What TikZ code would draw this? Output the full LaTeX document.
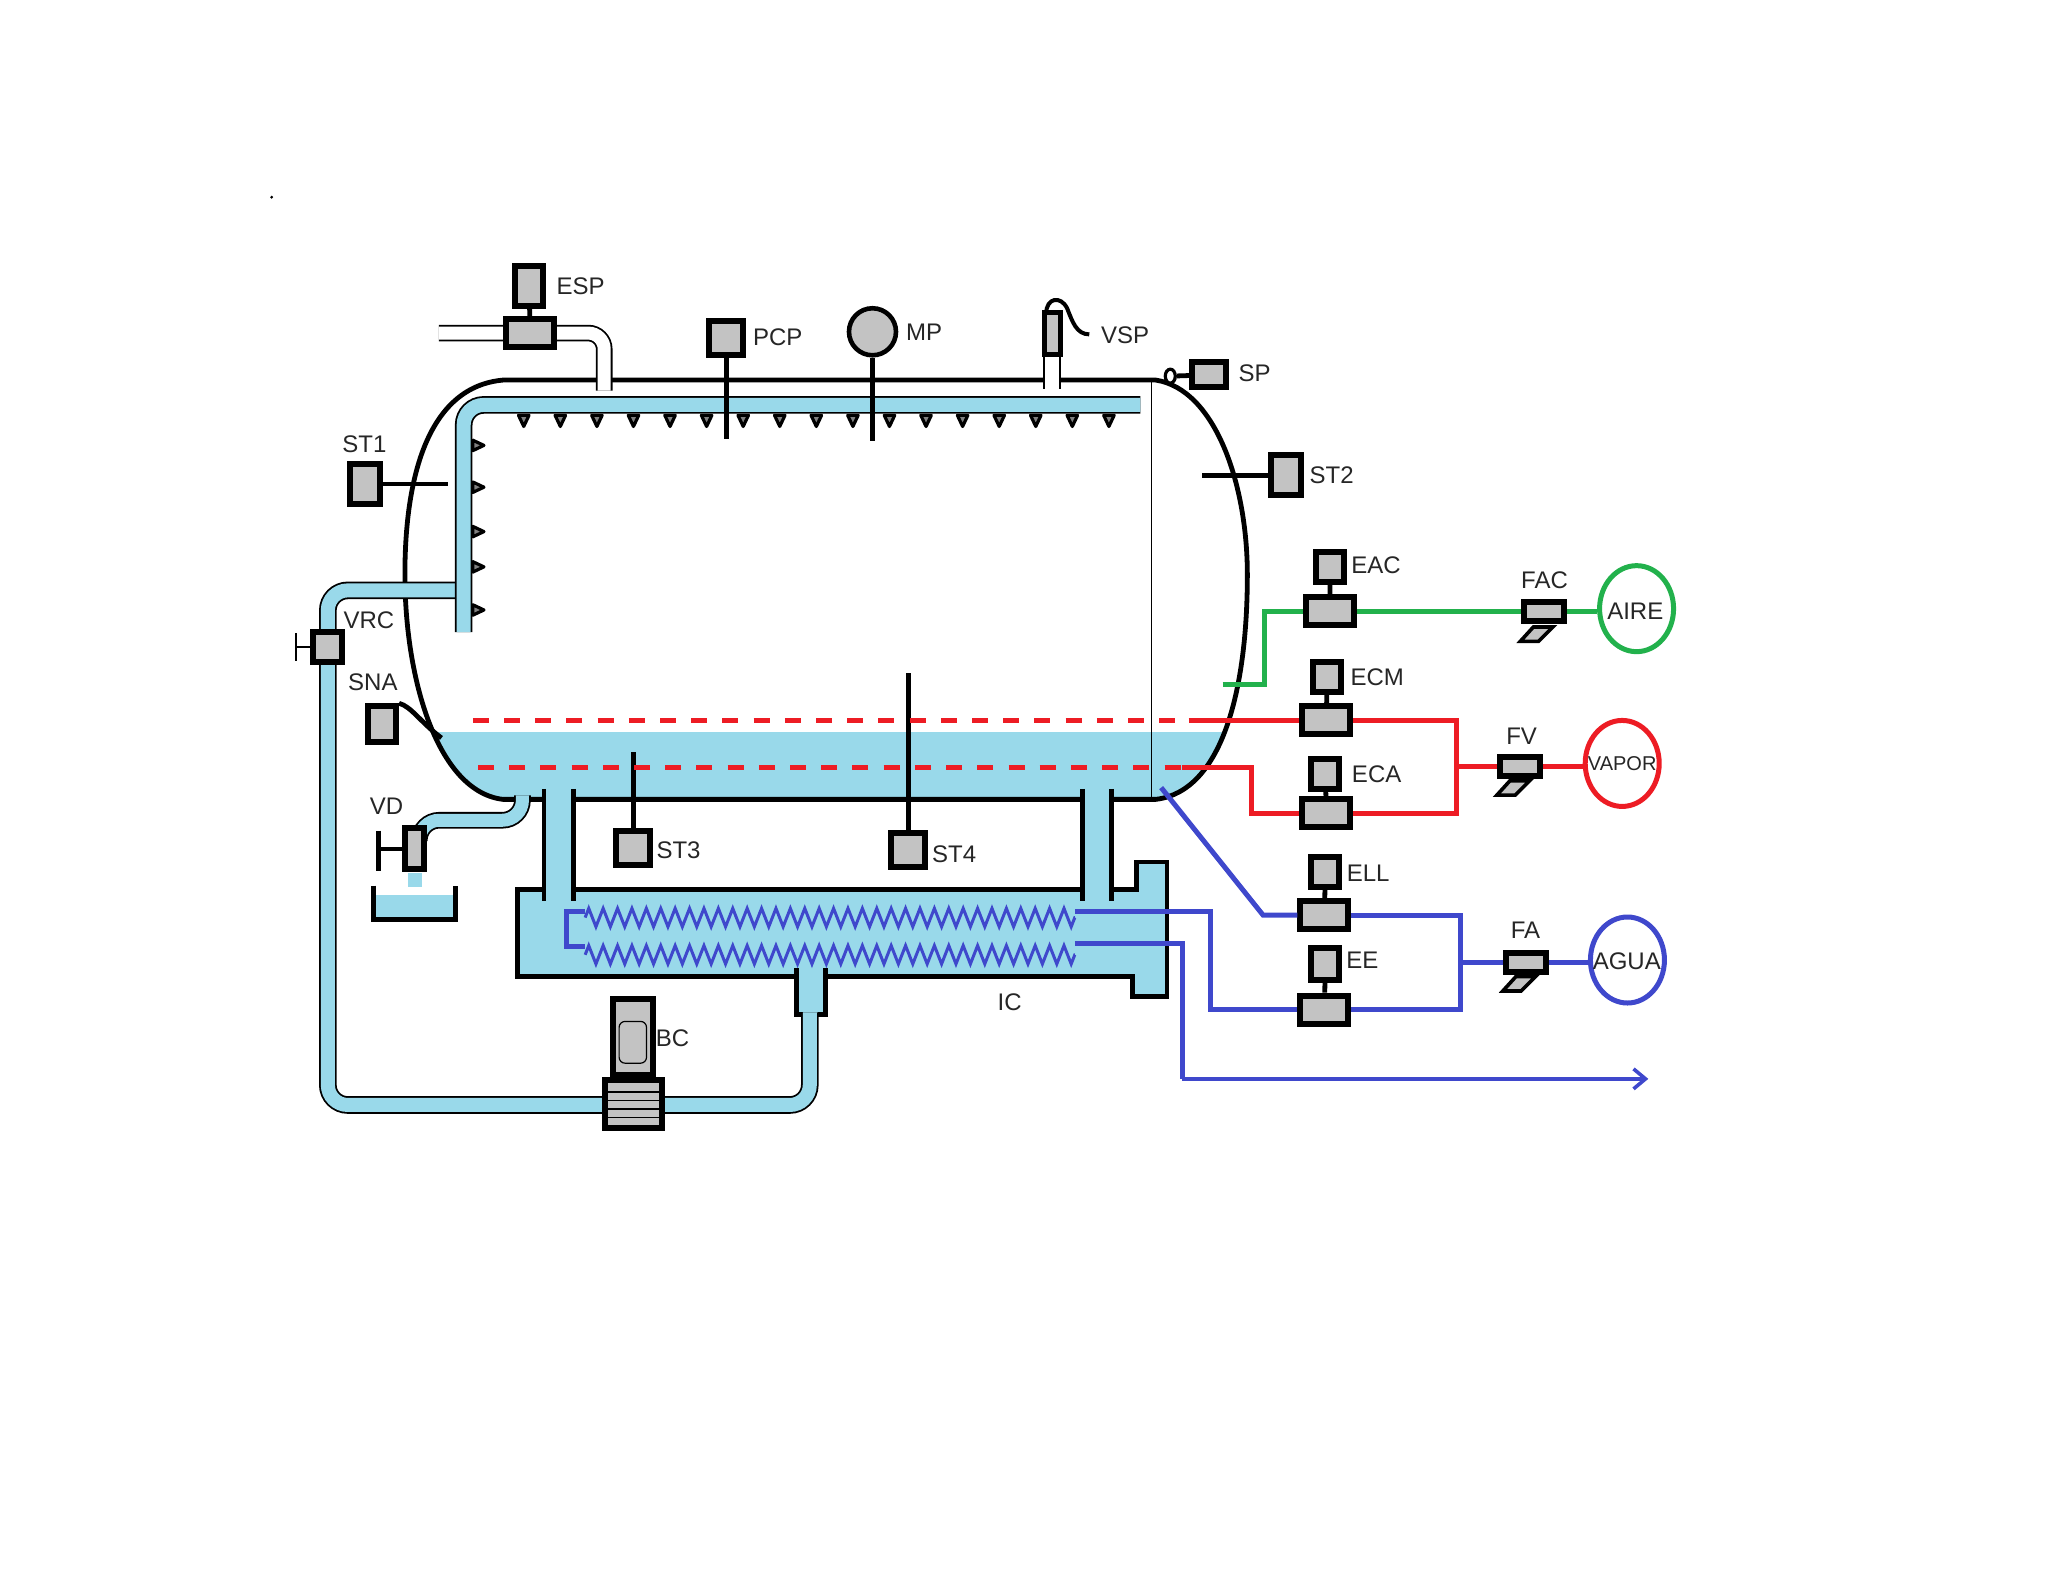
\documentclass[tikz,border=0pt]{standalone}
\usepackage{fontspec}
\setmainfont{Liberation Sans}
\usetikzlibrary{shapes.geometric,arrows.meta,decorations.pathmorphing}

\definecolor{water}{HTML}{99D9EA}
\definecolor{boxgray}{HTML}{C3C3C3}
\definecolor{redline}{HTML}{ED1C24}
\definecolor{greenline}{HTML}{22B14C}
\definecolor{blueline}{HTML}{3F48CC}

\newcommand{\tankpath}{(385,291) -- (885,291) .. controls (930,298) and (955,370) .. (955,440) .. controls (955,530) and (935,606) .. (885,612) -- (385,612) .. controls (335,606) and (310,520) .. (310,440) .. controls (310,360) and (330,296) .. (385,291) -- cycle}

\begin{document}
\begin{tikzpicture}[x=0.653pt, y=-0.653pt,
		instr/.style={draw=black, fill=boxgray, line width=3pt, inner sep=0pt},
		topbox/.style={instr, minimum width=14pt, minimum height=15pt},
		valvebox/.style={instr, minimum width=24pt, minimum height=14pt},
		tallbox/.style={instr, minimum width=15pt, minimum height=20pt},
		sqbox/.style={instr, minimum width=17pt, minimum height=17pt},
		meterbox/.style={instr, minimum width=20pt, minimum height=9.5pt},
		lbl/.style={font=\fontsize{12}{14}\selectfont, text=black!85, inner sep=0pt},
		wire/.style={draw=black, line width=2.4pt},
		stub/.style={draw=black, line width=2.4pt},
		pipe/.style={draw=black, line width=0.9pt, double=water, double distance=7pt, rounded corners=10pt},
		airpipe/.style={draw=black, line width=0.9pt, double=white, double distance=6.5pt, rounded corners=8pt},
		nozzle/.style={draw=black, fill=gray, line width=1.6pt, line join=round},
		redpipe/.style={draw=redline, line width=2.5pt},
		bluepipe/.style={draw=blueline, line width=2.5pt},
		greenpipe/.style={draw=greenline, line width=2.5pt},
		source/.style={ellipse, fill=white, line width=2.5pt, inner sep=0pt, minimum width=37pt, minimum height=43pt},
		coil/.style={draw=blueline, line width=1.5pt, decorate, decoration={zigzag, segment length=7.2pt, amplitude=4.6pt}}
	]
	\useasboundingbox (0,0) rectangle (1568,1211);
	\fill (208,151) circle (1.2);

	% tank and water
	\begin{scope}
		\clip \tankpath;
		\fill[water] (300,560.5) rectangle (960,615);
	\end{scope}
	\draw[wire, line join=round] \tankpath;
	\draw[black, line width=0.5pt] (881.5,291) -- (881.5,612);

	% exchanger
	\draw[wire, fill=water] (396,681) -- (870,681) -- (870,660) -- (893.5,660) -- (893.5,763) -- (867,763) -- (867,747.5) -- (396,747.5) -- cycle;
	\fill[water] (417,600) rectangle (439,690);
	\fill[water] (830,600) rectangle (851,690);
	\fill[water] (611,741) rectangle (632,777);
	\draw[stub] (416.5,604) -- (416.5,690);
	\draw[stub] (439,604) -- (439,690);
	\draw[stub] (829,604) -- (829,690);
	\draw[stub] (851,604) -- (851,690);
	\draw[stub] (615,777) -- (610,777) -- (610,741);
	\draw[stub] (626,777) -- (632,777) -- (632,741);

	% water pipes
	\draw[pipe] (353,452) -- (251,452) -- (251,846) -- (620,846) -- (620,775);
	\draw[pipe] (873,310) -- (355,310) -- (355,484);
	\draw[pipe, double distance=6.5pt] (400,609) -- (400,628) -- (321,628) -- (321,634);
	\fill[water] (312,668) rectangle (323,679);
	\fill[water] (287,685) rectangle (349,704);
	\draw[stub] (286,678) -- (286,704) -- (349,704) -- (349,678);

	% air lines
	\draw[airpipe] (336,255) -- (462.6,255) -- (462.6,299);
	\draw[airpipe, double distance=7pt] (805.5,270) -- (805.5,298);

	\foreach \nx in {401,429,...,849}
		\draw[nozzle] (\nx-4,318) -- (\nx+4,318) -- (\nx,326.5) -- cycle;
	\foreach \ny in {341,373,407,434,467}
		\draw[nozzle] (362,\ny-4) -- (362,\ny+4) -- (370.5,\ny) -- cycle;

	% instruments
	\node[topbox, minimum height=20pt] (ESPt) at (405,219) {};
	\node[valvebox] (ESPv) at (406,255) {};
	\node[tallbox] (ST1b) at (279.5,370.5) {};
	\node[sqbox] (PCPb) at (556,259) {};
	\node[circle, instr, line width=2.3pt, minimum size=23.5pt] (MPb) at (668,254) {};
	\node[instr, line width=2.5pt, minimum width=8pt, minimum height=21pt] (VSPb) at (805.5,255) {};
	\node[instr, minimum width=17pt, minimum height=12.5pt] (SPb) at (926,287) {};
	\node[ellipse, draw=black, fill=white, line width=1.6pt, inner sep=0pt, minimum width=5pt, minimum height=7pt] (SPr) at (896,288) {};
	\node[tallbox] (ST2b) at (984.5,364) {};
	\node[instr, minimum width=14.5pt, minimum height=15pt] (VRCb) at (250.4,495) {};
	\node[instr, minimum width=14pt, minimum height=18pt] (SNAb) at (292.5,554.5) {};
	\node[instr, minimum width=9.5pt, minimum height=20.5pt] (VDb) at (317,650) {};
	\node[sqbox] (ST3b) at (484.8,649.5) {};
	\node[sqbox] (ST4b) at (695.5,651) {};

	\node[topbox] (EACt) at (1018.5,434) {};
	\node[valvebox] (EACv) at (1018,468) {};
	\node[topbox] (ECMt) at (1016,518) {};
	\node[valvebox] (ECMv) at (1015.5,551.5) {};
	\node[topbox] (ECAt) at (1014.7,592.5) {};
	\node[valvebox] (ECAv) at (1015.5,622.5) {};
	\node[topbox] (ELLt) at (1014.7,667.6) {};
	\node[valvebox] (ELLv) at (1014,700.6) {};
	\node[topbox, minimum height=16pt] (EEt) at (1014.7,738) {};
	\node[valvebox] (EEv) at (1014,773) {};

	\node[meterbox] (FACb) at (1182,468) {};
	\node[meterbox] (FVb) at (1164,586.8) {};
	\node[meterbox] (FAb) at (1168.6,736.7) {};
	\foreach \cx/\cy in {1182/469, 1164/586.8, 1168.6/736.7}
		\draw[draw=black, fill=boxgray, line width=1.8pt] (\cx-18,\cy+22) -- (\cx-4,\cy+22) -- (\cx+7,\cy+11) -- (\cx-8,\cy+11) -- cycle;

	\node[source, draw=greenline] (AIREc) at (1253,466) {};
	\node[source, draw=redline] (VAPORc) at (1242,584.5) {};
	\node[source, draw=blueline] (AGUAc) at (1246,735) {};

	% pump
	\node[instr, minimum width=20pt, minimum height=38pt] (BCt) at (484.5,794) {};
	\draw[black, line width=0.6pt, rounded corners=3pt] (474,782) rectangle (495,814);
	\node[instr, minimum width=28.5pt, minimum height=24pt] (BCb) at (485,845.5) {};
	\foreach \ly in {836,842.5,849,855.5}
		\draw[black, line width=0.9pt] (BCb.west |- 0,\ly) -- (BCb.east |- 0,\ly);

	% stems
	\coordinate (ST1e) at (343,370.5);
	\coordinate (PCPe) at (556,336);
	\coordinate (MPe) at (668,338);
	\coordinate (ST2e) at (920,364);
	\coordinate (ST3e) at (484.8,576);
	\coordinate (ST4e) at (695.5,515);
	\coordinate (VRCe) at (226.6,495);
	\coordinate (VDe) at (290,650);
	\coordinate (SNAe) at (338,565);
	\coordinate (VSPe) at (834,256);
	\draw[stub] (ESPt) -- (ESPv);
	\draw[stub] (ST1b) -- (ST1e);
	\draw[stub] (PCPb) -- (PCPe);
	\draw[stub] (MPb) -- (MPe);
	\draw[stub] (ST2b) -- (ST2e);
	\draw[stub] (ST3b) -- (ST3e);
	\draw[stub] (ST4b) -- (ST4e);
	\draw[stub] (SPr) -- (SPb);
	\draw[stub] (SNAb.north east) .. controls (315,541) and (322,553) .. (SNAe);
	\draw[stub, line width=2pt] (801,240) .. controls (801,228) and (812,226) .. (817,236) .. controls (821,246) and (824,256) .. (VSPe);
	\draw[black, line width=1pt] (VRCb) -- (VRCe);
	\draw[black, line width=1pt] (226.6,485) -- (226.6,506);
	\draw[stub] (VDb) -- (VDe);
	\draw[stub] (290,636) -- (290,667);
	\draw[stub] (EACt) -- (EACv);
	\draw[stub] (ECMt) -- (ECMv);
	\draw[stub] (ECAt) -- (ECAv);
	\draw[stub] (ELLt) -- (ELLv);
	\draw[stub] (EEt) -- (EEv);

	% steam
	\draw[redpipe, dash pattern=on 8pt off 7.6pt] (362,551.5) -- (910,551.5);
	\draw[redpipe, dash pattern=on 8pt off 7.6pt] (366,587.5) -- (905,587.5);
	\draw[redpipe] (910,551.5) -- (ECMv);
	\draw[redpipe] (905,587.5) -- (958,587.5) -- (958,622.5) -- (ECAv);
	\draw[redpipe, line join=miter] (ECMv) -- (1115,551.5) -- (1115,622.5) -- (ECAv);
	\draw[redpipe] (1115,586.8) -- (FVb);
	\draw[redpipe] (FVb) -- (FVb -| VAPORc.west);

	% air
	\draw[greenpipe] (936,524) -- (968,524) -- (968,468) -- (EACv);
	\draw[greenpipe] (EACv) -- (FACb);
	\draw[greenpipe] (FACb) -- (FACb -| AIREc.west);

	% cooling water
	\draw[coil] (448,702.5) -- (823,702.5);
	\draw[coil] (448,731) -- (823,731);
	\draw[bluepipe] (448,697.5) -- (434,697.5) -- (434,725) -- (448,725);
	\draw[bluepipe] (889,603) -- (967,700.6) -- (ELLv);
	\draw[bluepipe] (ELLv) -- (1118,700.6) -- (1118,773) -- (EEv);
	\draw[bluepipe] (EEv) -- (927,773) -- (927,697.5) -- (823,697.5);
	\draw[bluepipe] (1118,736.7) -- (FAb);
	\draw[bluepipe] (FAb) -- (FAb -| AGUAc.west);
	\draw[bluepipe] (823,722.5) -- (905,722.5) -- (905,826);
	\draw[draw=blueline, line width=1.8pt, -{Straight Barb[length=6pt, width=10pt]}] (905,826) -- (1262,826);

	% labels
	\node[lbl] (ESPl) at (444.5,219.5) {ESP};
	\node[lbl] (PCPl) at (595.5,258.5) {PCP};
	\node[lbl] (MPl) at (707.5,254.5) {MP};
	\node[lbl] (VSPl) at (861.5,257) {VSP};
	\node[lbl] (SPl) at (960.5,286) {SP};
	\node[lbl] (ST1l) at (279,340) {ST1};
	\node[lbl] (ST2l) at (1019.5,363.5) {ST2};
	\node[lbl] (VRCl) at (282.5,475) {VRC};
	\node[lbl] (SNAl) at (285.5,522) {SNA};
	\node[lbl] (VDl) at (296,617) {VD};
	\node[lbl] (ST3l) at (519.5,651) {ST3};
	\node[lbl] (ST4l) at (730.5,654) {ST4};
	\node[lbl] (BCl) at (515,795) {BC};
	\node[lbl] (ICl) at (773,767) {IC};
	\node[lbl] (EACl) at (1053.5,433) {EAC};
	\node[lbl] (ECMl) at (1054.5,518.5) {ECM};
	\node[lbl] (ECAl) at (1054,592.5) {ECA};
	\node[lbl] (ELLl) at (1047.5,668.5) {ELL};
	\node[lbl] (EEl) at (1043,735) {EE};
	\node[lbl] (FACl) at (1182.5,444) {FAC};
	\node[lbl] (FVl) at (1165,564) {FV};
	\node[lbl] (FAl) at (1168,712) {FA};
	\node[lbl] (AIREl) at (1252,468) {AIRE};
	\node[lbl, font=\fontsize{10}{12}\selectfont] (VAPORl) at (VAPORc) {VAPOR};
	\node[lbl] (AGUAl) at (1245.5,736) {AGUA};
\end{tikzpicture}
\end{document}
